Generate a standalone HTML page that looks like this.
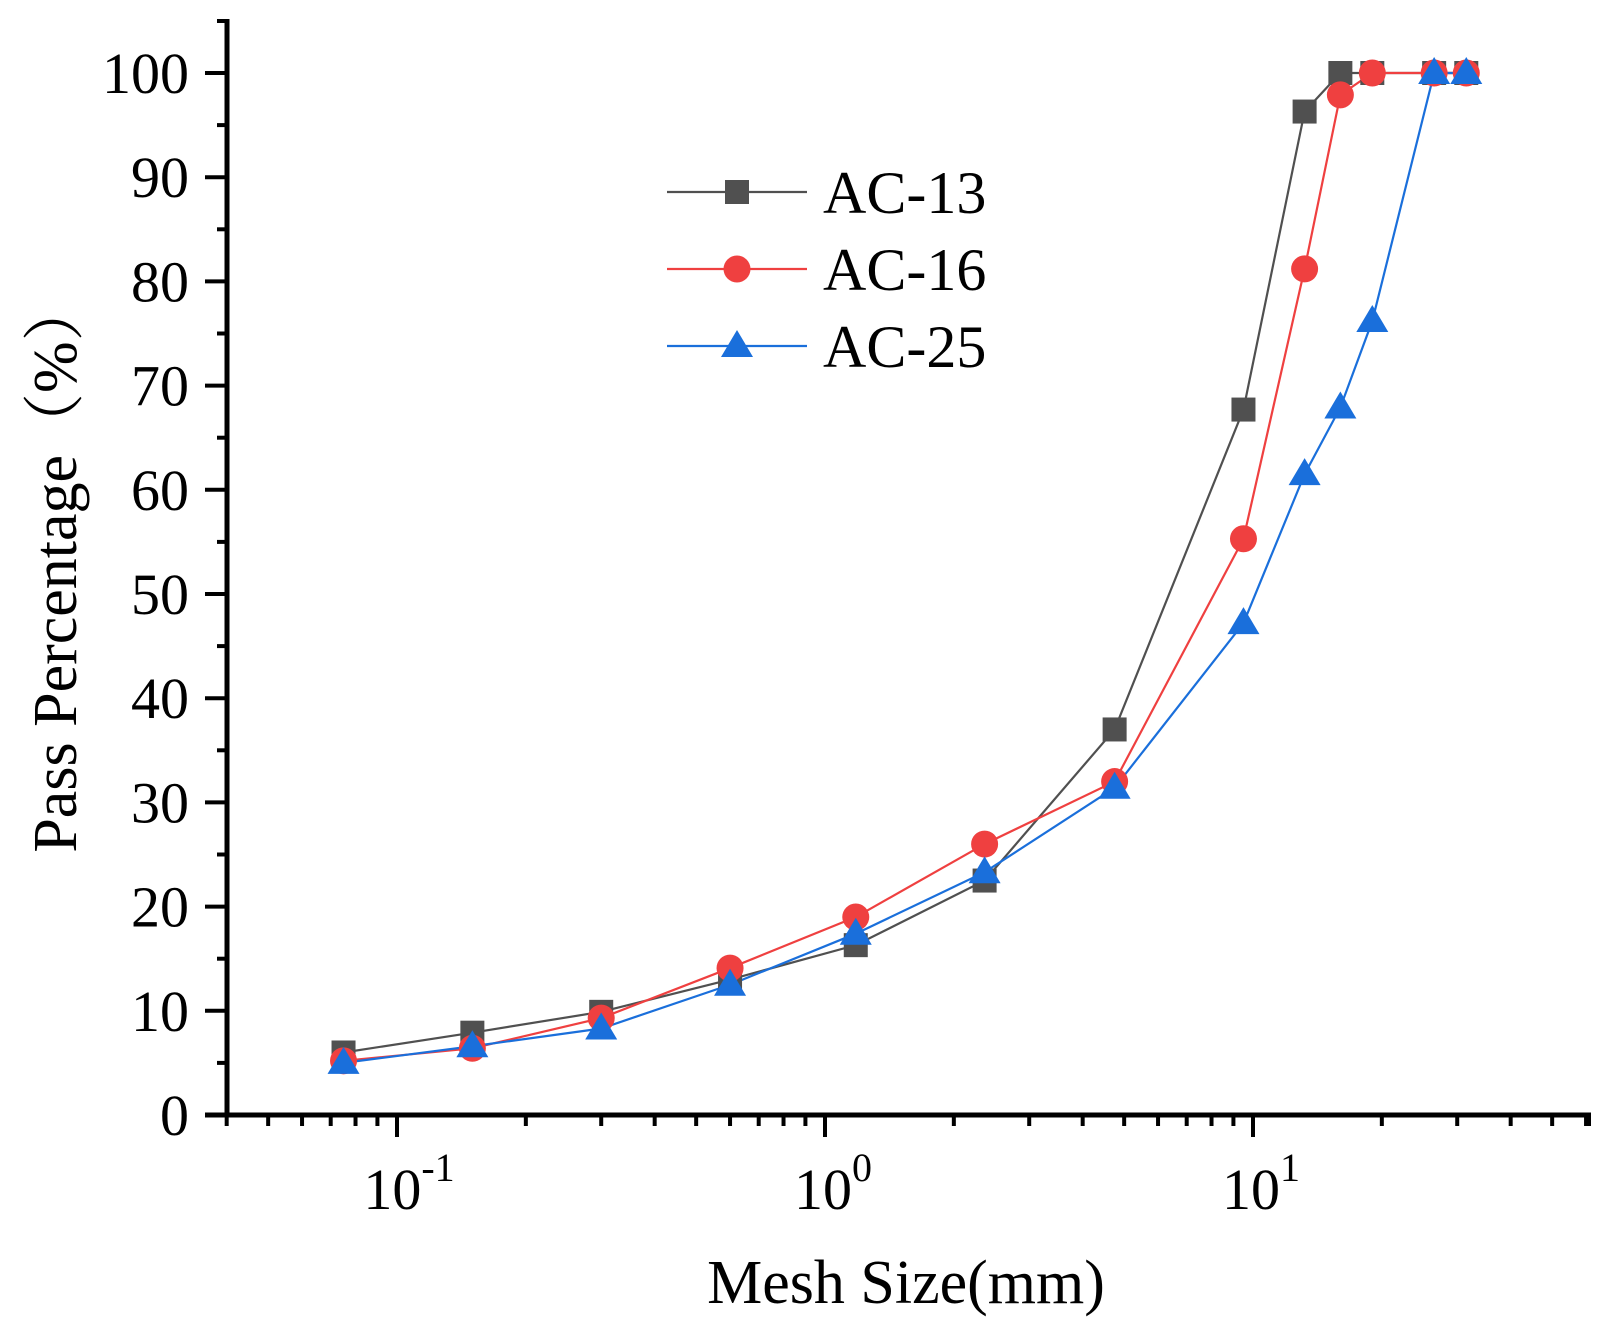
<!DOCTYPE html>
<html><head><meta charset="utf-8"><style>
html,body{margin:0;padding:0;background:#fff;}
svg{display:block;font-family:"Liberation Serif","Noto Serif CJK SC",serif;}
</style></head><body>
<svg id="s" width="1612" height="1337" viewBox="0 0 1612 1337" xmlns="http://www.w3.org/2000/svg">
<rect width="1612" height="1337" fill="#fff"/>
<g id="g"></g>
<text x="906" y="1303" font-size="62" text-anchor="middle">Mesh Size(mm)</text>
<text transform="translate(76,566) rotate(-90)" font-size="62" text-anchor="middle">Pass Percentage（%）</text>
</svg>
<script>
const NS="http://www.w3.org/2000/svg",g=document.getElementById('g');
function el(t,a,txt){const e=document.createElementNS(NS,t);for(const k in a)e.setAttribute(k,a[k]);if(txt!=null)e.textContent=txt;g.appendChild(e);return e;}
const X=v=>825+428*Math.log10(v), Y=p=>1115-10.42*p;
el('line',{x1:205,y1:1115,x2:1591,y2:1115,stroke:'#000','stroke-width':5});
el('line',{x1:227,y1:19,x2:227,y2:1117,stroke:'#000','stroke-width':5});
el('line',{x1:217,y1:21,x2:227,y2:21,stroke:'#000','stroke-width':4});
for(let p=0;p<=100;p+=5){const y=Y(p);const maj=p%10==0;
 el('line',{x1:maj?205:217,y1:y,x2:227,y2:y,stroke:'#000','stroke-width':4});
 if(maj)el('text',{x:189,y:y+20,'font-size':58,'text-anchor':'end'},String(p));}
for(let d=-2;d<=1;d++)for(let m=1;m<=9;m++){const v=m*Math.pow(10,d);if(v<0.039||v>61)continue;const x=X(v);
 el('line',{x1:x,y1:1113,x2:x,y2:m==1?1137:1126,stroke:'#000','stroke-width':4});}
el('line',{x1:1589,y1:1113,x2:1589,y2:1126,stroke:'#000','stroke-width':4});
[[-1,'-1'],[0,'0'],[1,'1']].forEach(([d,s])=>{const x=X(Math.pow(10,d));
 const t=el('text',{x:x+(d<0?12:8),y:1209,'font-size':58,'text-anchor':'middle'});
 t.innerHTML='10<tspan dy="-28" font-size="40">'+s+'</tspan>';});
const xs=[0.075,0.15,0.3,0.6,1.18,2.36,4.75,9.5,13.2,16,19,26.5,31.5];
const S=[
 {c:'#505050',m:'sq',v:[6.0,7.9,9.9,13.0,16.3,22.5,37.0,67.7,96.3,100,100,100,100],ly:192,n:'AC-13'},
 {c:'#ef4040',m:'ci',v:[5.2,6.4,9.3,14.1,19.0,26.0,32.0,55.3,81.2,97.9,100,100,100],ly:269,n:'AC-16'},
 {c:'#1a6fdb',m:'tr',v:[5.0,6.6,8.3,12.5,17.4,23.3,31.4,47.2,61.5,67.9,76.2,100,100],ly:346,n:'AC-25'}];
function mk(m,x,y,c){
 if(m=='sq')el('rect',{x:x-12,y:y-12,width:24,height:24,fill:c});
 else if(m=='ci')el('circle',{cx:x,cy:y,r:13.5,fill:c});
 else el('polygon',{points:`${x},${y-16} ${x-16},${y+11} ${x+16},${y+11}`,fill:c});}
S.forEach(s=>{el('polyline',{points:xs.map((x,i)=>X(x)+','+Y(s.v[i])).join(' '),fill:'none',stroke:s.c,'stroke-width':2.2});});
S.forEach(s=>{xs.forEach((x,i)=>mk(s.m,X(x),Y(s.v[i]),s.c));
 el('line',{x1:667,y1:s.ly,x2:807,y2:s.ly,stroke:s.c,'stroke-width':2.2});
 mk(s.m,737,s.ly,s.c);
 el('text',{x:823,y:s.ly+21,'font-size':60},s.n);});
</script>
</body></html>
